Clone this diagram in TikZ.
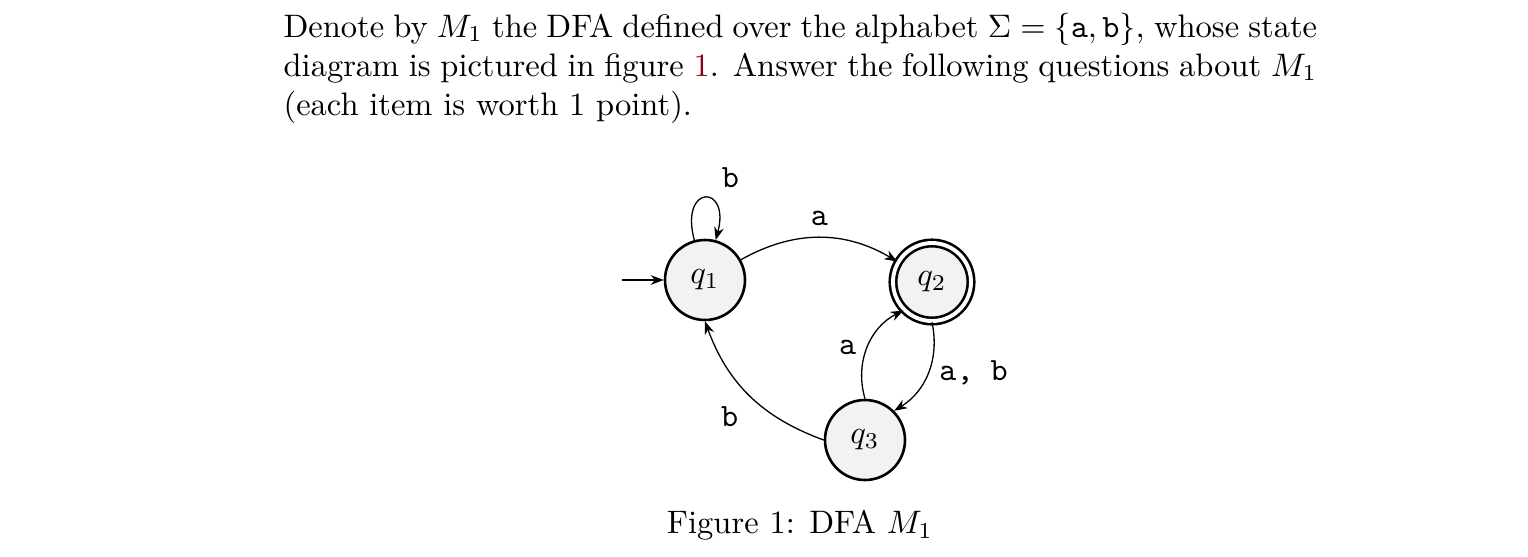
\documentclass[tikz,border=0pt]{standalone}
\usetikzlibrary{automata,arrows.meta}
\begin{document}
\begin{tikzpicture}[x=0.3077pt,y=-0.3077pt,
  st/.style={circle,draw,thick,fill=gray!10,minimum size=80*0.3077pt,inner sep=0pt},
  lbl/.style={font=\ttfamily},
  >={Stealth[length=4pt,width=3pt]}]
\useasboundingbox (0,0) rectangle (1528,556);
\node[anchor=north west,text width=318pt,align=justify,inner sep=0pt] (par) at (283,12)
 {Denote by $M_1$ the DFA defined over the alphabet $\Sigma=\{\mathtt{a},\mathtt{b}\}$, whose state diagram is pictured in figure {\color[rgb]{0.55,0,0.1}1}. Answer the following questions about $M_1$ (each item is worth 1 point).};
\node[st] (q1) at (705,280) {$q_1$};
\node[st,double,double distance=1.2pt,minimum size=78*0.3077pt] (q2) at (932,282) {$q_2$};
\node[st] (q3) at (865,440) {$q_3$};
\coordinate (in) at (622,280);
\draw[->] (in) -- (q1);
\draw[->] (q1) to[out=105,in=75,looseness=7] node[above right,lbl,pos=0.6] {b} (q1);
\draw[->] (q1) to[bend left=30] node[above,lbl] {a} (q2);
\draw[->] (q2.south) to[bend left=35] node[right,lbl] {a, b} (q3.north east);
\draw[->] (q3.north) to[bend left=40] node[left,lbl] {a} (q2.south west);
\draw[->] (q3.west) to[bend left=25] node[below left,lbl] {b} (q1.south);
\node (cap) at (800,525) {Figure 1: DFA $M_1$};
\end{tikzpicture}
\end{document}
